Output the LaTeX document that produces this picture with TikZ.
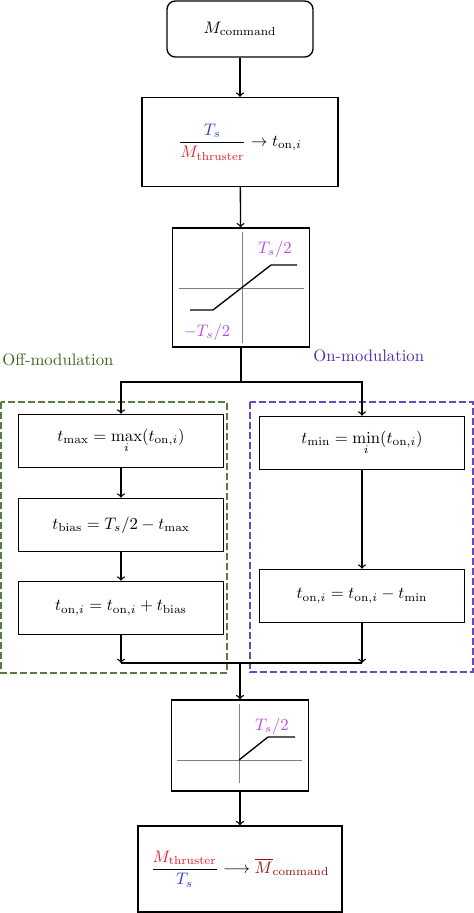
\documentclass[tikz,border=0pt]{standalone}
\usepackage{amsmath}

\definecolor{tsblue}{RGB}{40,60,210}
\definecolor{thrred}{RGB}{230,30,50}
\definecolor{halfviolet}{RGB}{185,75,230}
\definecolor{cmdred}{RGB}{150,20,20}
\definecolor{offgreen}{RGB}{60,100,30}
\definecolor{onviolet}{RGB}{80,40,180}

\begin{document}
\begin{tikzpicture}[x=0.6pt,y=-0.6pt,
		box/.style={draw,thick,inner sep=0pt,minimum width=123pt,minimum height=32pt},
		axis/.style={gray,semithick},
		arr/.style={->,thick}]
		\useasboundingbox (0,0) rectangle (474,913);
		%top of the chain
		\node[draw,thick,rounded corners=5pt,minimum width=87.6pt,minimum height=33.6pt] (cmd) at (240,29) {$M_{\mathrm{command}}$};
		\node[box,minimum width=117.6pt,minimum height=53.4pt] (conv) at (240,142) {$\displaystyle\frac{\textcolor{tsblue}{T_s}}{\textcolor{thrred}{M_{\mathrm{thruster}}}} \rightarrow t_{\mathrm{on},i}$};
		\node[box,minimum width=82.2pt,minimum height=71.4pt] (sat) at (241,287.5) {};
		\draw[axis] (242,232) -- (242,343);
		\draw[axis] (179,288) -- (304,288);
		\draw[thick] (190,310) -- (213,310) -- (271,265) -- (297,265);
		\node[halfviolet] at (275,249) {$T_s/2$};
		\node[halfviolet] at (207,332) {$-T_s/2$};
		\draw[arr] (cmd) -- (conv);
		\draw[arr] (conv) -- (sat);
		%the two branches
		\draw[dashed,dash pattern=on 4pt off 2pt,thick,offgreen!85] (1,402) rectangle (227,673);
		\draw[dashed,dash pattern=on 4pt off 2pt,thick,onviolet!85] (250,402) rectangle (473,672);
		\node[offgreen,anchor=west,inner sep=0pt] (offlbl) at (2,360) {Off-modulation};
		\node[onviolet,anchor=west,inner sep=0pt] (onlbl) at (313,356) {On-modulation};
		\coordinate (split) at (241,382);
		\node[box] (tmax) at (121,441) {$\displaystyle t_{\max} = \max_i(t_{\mathrm{on},i})$};
		\node[box] (tbias) at (121,525) {$t_{\mathrm{bias}} = T_s/2 - t_{\max}$};
		\node[box] (tonp) at (121,608) {$t_{\mathrm{on},i} = t_{\mathrm{on},i} + t_{\mathrm{bias}}$};
		\node[box] (tmin) at (362,443) {$\displaystyle t_{\min} = \min_i(t_{\mathrm{on},i})$};
		\node[box] (tonm) at (362,596) {$t_{\mathrm{on},i} = t_{\mathrm{on},i} - t_{\min}$};
		\draw[thick] (sat) -- (split);
		\draw[arr] (split) -| (tmax);
		\draw[arr] (split) -| (tmin);
		\draw[arr] (tmax) -- (tbias);
		\draw[arr] (tbias) -- (tonp);
		\draw[arr] (tmin) -- (tonm);
		\coordinate (merge) at (240,663);
		\draw[arr] (tonp) -- (tonp |- merge);
		\draw[arr] (tonm) -- (tonm |- merge);
		\draw[thick] (tonp |- merge) -- (tonm |- merge);
		%bottom of the chain
		\node[box,minimum width=82.2pt,minimum height=54.6pt] (satp) at (240,745.5) {};
		\draw[axis] (239,704) -- (239,783);
		\draw[axis] (177,760) -- (302,760);
		\draw[thick] (239,760) -- (268,737) -- (295,737);
		\node[halfviolet] at (272,726) {$T_s/2$};
		\node[box,minimum width=122.4pt,minimum height=51.6pt] (back) at (240,869) {$\displaystyle\frac{\textcolor{thrred}{M_{\mathrm{thruster}}}}{\textcolor{tsblue}{T_s}} \longrightarrow \textcolor{cmdred}{\overline{M}_{\mathrm{command}}}$};
		\draw[arr] (merge) -- (satp);
		\draw[arr] (satp) -- (back);
	\end{tikzpicture}
\end{document}
